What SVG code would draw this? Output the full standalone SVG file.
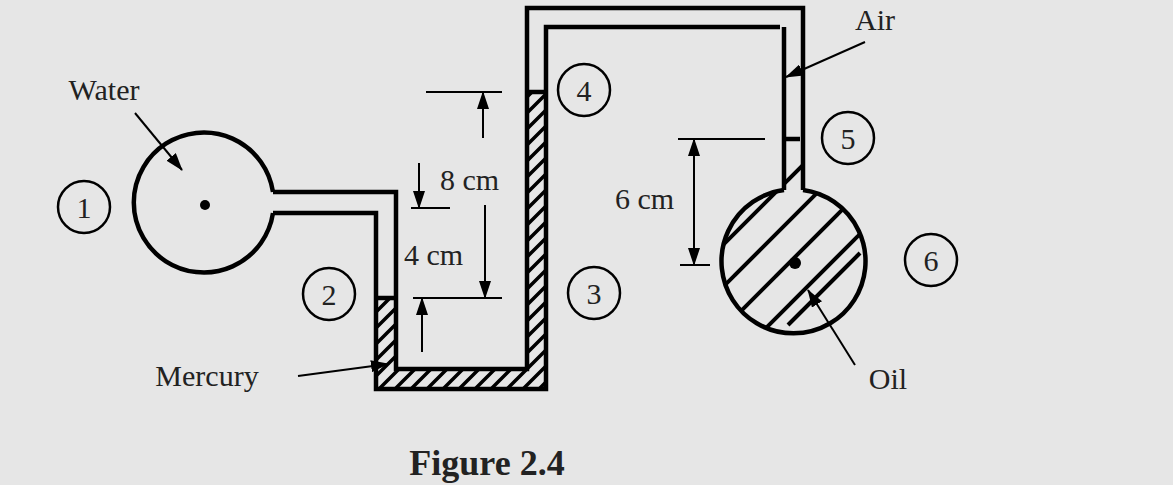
<svg xmlns="http://www.w3.org/2000/svg" width="1173" height="485" viewBox="0 0 1173 485">
<style>
.w{fill:none;stroke:#000;stroke-width:4.5}
.t{fill:none;stroke:#000;stroke-width:2}
.c{fill:none;stroke:#000;stroke-width:2.5}
text{font-family:"Liberation Serif",serif;font-size:30px;fill:#222}
.n{text-anchor:middle}
</style>
<defs>
<pattern id="h" width="16" height="16" patternUnits="userSpaceOnUse">
<path d="M-2,18L18,-2M-4,4L4,-4M12,20L20,12" stroke="#000" stroke-width="3.5"/>
</pattern>
<marker id="b" markerWidth="18" markerHeight="12" refX="17" refY="6" orient="auto" markerUnits="userSpaceOnUse">
<path d="M0,0L18,6L0,12z"/>
</marker>
<clipPath id="oc"><path d="M784,190L803,190L803,139L784,139z"/><circle cx="794" cy="262" r="72"/></clipPath>
</defs>
<rect width="1173" height="485" fill="#e6e6e6"/>
<g id="mercury">
<path d="M376,298H396V369H527V92H546V389H376z" fill="url(#h)"/>
<line x1="376" y1="298" x2="396" y2="298" class="w" stroke-width="3"/>
<line x1="527" y1="92" x2="546" y2="92" class="w" stroke-width="3"/>
</g>
<g id="oil" clip-path="url(#oc)">
<g stroke="#000" stroke-width="4">
<line x1="607" y1="315" x2="847" y2="75"/>
<line x1="632" y1="336" x2="872" y2="96"/>
<line x1="653" y1="357" x2="893" y2="117"/>
<line x1="674" y1="378" x2="914" y2="138"/>
<line x1="695" y1="399" x2="935" y2="159"/>
<line x1="788" y1="325" x2="860" y2="253"/>
</g>
</g>
<g id="pipes">
<path class="w" d="M273,192H396V369H527V8H803V190"/>
<path class="w" d="M273,213H376V389H546V27H780"/>
<path class="w" d="M784,27V190"/>
<line x1="784" y1="139" x2="800" y2="139" class="w" stroke-width="3.5"/>
<path class="w" d="M273,192A70,70 0 1 0 273,213"/>
<path class="w" d="M784,190A72,72 0 1 0 803,190" stroke-width="3.5"/>
<circle cx="205" cy="205" r="5"/>
<circle cx="795" cy="263" r="6"/>
</g>
<g id="connectors">
<line x1="426" y1="92" x2="502" y2="92" class="t"/>
<line x1="483" y1="138" x2="483" y2="92" class="t" marker-end="url(#b)"/>
<line x1="411" y1="208" x2="450" y2="208" class="t"/>
<line x1="419" y1="163" x2="419" y2="208" class="t" marker-end="url(#b)"/>
<line x1="413" y1="298" x2="502" y2="298" class="t"/>
<line x1="485" y1="205" x2="485" y2="298" class="t" marker-end="url(#b)"/>
<line x1="422" y1="352" x2="422" y2="298" class="t" marker-end="url(#b)"/>
<line x1="678" y1="139" x2="765" y2="139" class="t"/>
<line x1="680" y1="265" x2="710" y2="265" class="t"/>
<line x1="694" y1="200" x2="694" y2="139" class="t" marker-end="url(#b)"/>
<line x1="694" y1="200" x2="694" y2="265" class="t" marker-end="url(#b)"/>
<line x1="135" y1="113" x2="182" y2="170" class="t" marker-end="url(#b)"/>
<line x1="865" y1="42" x2="786" y2="77" class="t" marker-end="url(#b)"/>
<line x1="855" y1="365" x2="808" y2="290" class="t" marker-end="url(#b)"/>
<line x1="298" y1="376" x2="388" y2="364" class="t" marker-end="url(#b)"/>
</g>
<g id="n1"><circle cx="84" cy="207" r="26" class="c"/><text x="84" y="218" class="n">1</text></g>
<g id="n2"><circle cx="329" cy="294" r="26" class="c"/><text x="329" y="305" class="n">2</text></g>
<g id="n3"><circle cx="594" cy="293" r="26" class="c"/><text x="594" y="304" class="n">3</text></g>
<g id="n4"><circle cx="584" cy="90" r="26" class="c"/><text x="584" y="101" class="n">4</text></g>
<g id="n5"><circle cx="848" cy="138" r="26" class="c"/><text x="848" y="149" class="n">5</text></g>
<g id="n6"><circle cx="931" cy="260" r="26" class="c"/><text x="931" y="271" class="n">6</text></g>
<g id="labels">
<text x="104" y="100" class="n">Water</text>
<text x="875" y="30" class="n">Air</text>
<text x="207" y="386" class="n">Mercury</text>
<text x="888" y="389" class="n">Oil</text>
<text x="440" y="190">8 cm</text>
<text x="404" y="265">4 cm</text>
<text x="615" y="209">6 cm</text>
<text x="487" y="475" class="n" style="font-weight:bold;font-size:36px">Figure 2.4</text>
</g>
</svg>
